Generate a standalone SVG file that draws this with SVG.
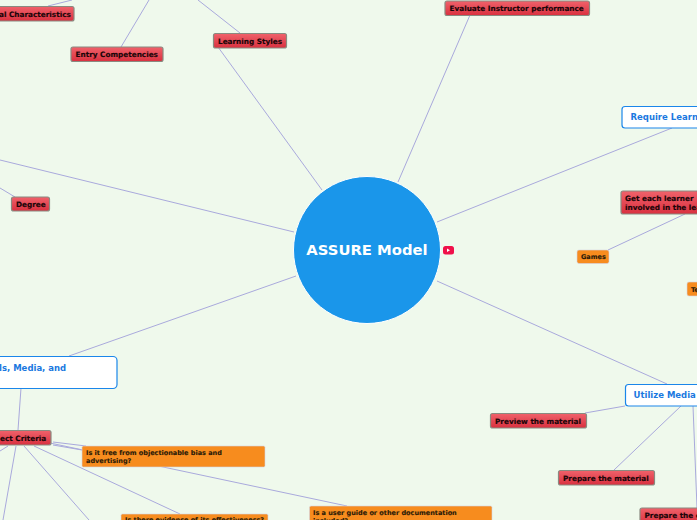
<svg xmlns="http://www.w3.org/2000/svg" width="697" height="520" viewBox="0 0 697 520">
<defs>
<linearGradient id="red" x1="0" y1="0" x2="0" y2="1"><stop offset="0" stop-color="#f0626b"/><stop offset="1" stop-color="#d9303f"/></linearGradient>
</defs>
<style>
text{font-family:"DejaVu Sans",sans-serif;font-weight:bold}
.c line{stroke:#a9a9dc;stroke-width:1;fill:none}
.r{fill:url(#red);stroke:#8a8a80;stroke-width:1.2}
.o{fill:#f78c1e;stroke:#d3d3e6;stroke-width:.6}
.w{fill:#fff;stroke:#1a86ea;stroke-width:1.2}
.rt{font-size:7.300px;fill:#1a0508;stroke:#1a0508;stroke-width:.15}
.ot{font-size:6.500px;fill:#2a1a08;stroke:#2a1a08;stroke-width:.12}
.wt{font-size:8.500px;fill:#1a78e0}
</style>
<rect width="697" height="520" fill="#eff9ec"/>
<g class="c">
<line x1="322" y1="190" x2="218" y2="47"/>
<line x1="149" y1="0" x2="121" y2="47"/>
<line x1="198" y1="0" x2="240" y2="33"/>
<line x1="72" y1="0" x2="48" y2="6"/>
<line x1="398" y1="182" x2="470" y2="15"/>
<line x1="437" y1="222" x2="672" y2="128"/>
<line x1="685" y1="214" x2="608" y2="250"/>
<line x1="437" y1="281" x2="667" y2="384"/>
<line x1="625" y1="406" x2="585" y2="413"/>
<line x1="681" y1="406" x2="614" y2="470"/>
<line x1="693" y1="406" x2="697" y2="508"/>
<line x1="294" y1="232" x2="0" y2="160"/>
<line x1="0" y1="188" x2="15" y2="197"/>
<line x1="296" y1="276" x2="69" y2="356"/>
<line x1="21" y1="388" x2="18" y2="430"/>
<line x1="53" y1="442" x2="86" y2="446"/>
<line x1="53" y1="445" x2="82" y2="450"/>
<line x1="34" y1="446" x2="180" y2="514"/>
<line x1="24" y1="446" x2="89" y2="520"/>
<line x1="16" y1="446" x2="3" y2="520"/>
<line x1="8" y1="446" x2="0" y2="451"/>
<line x1="50" y1="443" x2="347" y2="506"/>
</g>
<g id="center"><circle cx="367" cy="250" r="73.500" fill="#1a96ea" stroke="#fff" stroke-width="1"/><text x="367" y="255" text-anchor="middle" font-size="14.800" fill="#fff">ASSURE Model</text></g>
<g id="video"><rect x="443" y="246" width="11" height="8.500" rx="2.500" fill="#f0104a"/><path d="M447 248.500l3 1.700-3 1.700z" fill="#fff"/></g>
<g id="learner-characteristics"><rect class="r" x="-30" y="6.500" width="104" height="14.500" rx="2"/><text class="rt" x="-1" y="16.500">al Characteristics</text></g>
<g id="entry"><rect class="r" x="71" y="47" width="92" height="14.500" rx="2"/><text class="rt" x="75.500" y="57">Entry Competencies</text></g>
<g id="styles"><rect class="r" x="213.500" y="33.500" width="73" height="14.500" rx="2"/><text class="rt" x="218" y="43.500">Learning Styles</text></g>
<g id="evaluate"><rect class="r" x="445" y="1" width="144.500" height="14.500" rx="2"/><text class="rt" x="449.500" y="11">Evaluate Instructor performance</text></g>
<g id="require"><rect class="w" x="622" y="106.500" width="100" height="21.500" rx="3"/><text class="wt" x="630.500" y="120">Require Learner</text></g>
<g id="involve"><rect class="r" x="621" y="191" width="100" height="23" rx="2"/><text class="rt" x="625" y="201">Get each learner</text><text class="rt" x="625" y="210">involved in the learning</text></g>
<g id="games"><rect class="o" x="577" y="250" width="32" height="13.500" rx="2"/><text class="ot" x="581" y="259">Games</text></g>
<g id="te"><rect class="o" x="687" y="282" width="30" height="14" rx="2"/><text class="ot" x="691" y="291.500">Te</text></g>
<g id="utilize"><rect class="w" x="625.500" y="384.500" width="100" height="21.500" rx="3"/><text class="wt" x="633.500" y="398">Utilize Media</text></g>
<g id="preview"><rect class="r" x="490.500" y="413.500" width="96" height="14.500" rx="2"/><text class="rt" x="495" y="424">Preview the material</text></g>
<g id="prepare-material"><rect class="r" x="558.500" y="470.500" width="96" height="14.500" rx="2"/><text class="rt" x="563" y="481">Prepare the material</text></g>
<g id="prepare-env"><rect class="r" x="640" y="508" width="90" height="16" rx="2"/><text class="rt" x="644.500" y="518">Prepare the environment</text></g>
<g id="select-media"><rect class="w" x="-40" y="356.500" width="157" height="32" rx="4"/><text class="wt" x="-1" y="371">ls, Media, and</text></g>
<g id="criteria"><rect class="r" x="-30" y="430.500" width="81" height="14.500" rx="2"/><text class="rt" x="0" y="441">ect Criteria</text></g>
<g id="degree"><rect class="r" x="11.500" y="197" width="38" height="14" rx="2"/><text class="rt" x="16" y="207">Degree</text></g>
<g id="bias"><rect class="o" x="82" y="446" width="183" height="21" rx="1.500"/><text class="ot" x="86" y="454.500">Is it free from objectionable bias and</text><text class="ot" x="86" y="463">advertising?</text></g>
<g id="evidence"><rect class="o" x="121" y="514" width="147" height="20" rx="1.500"/><text class="ot" x="125" y="521.500">Is there evidence of its effectiveness?</text></g>
<g id="guide"><rect class="o" x="309.500" y="506" width="182.500" height="24" rx="1.500"/><text class="ot" x="313" y="515">Is a user guide or other documentation</text><text class="ot" x="313" y="523">included?</text></g>
</svg>
